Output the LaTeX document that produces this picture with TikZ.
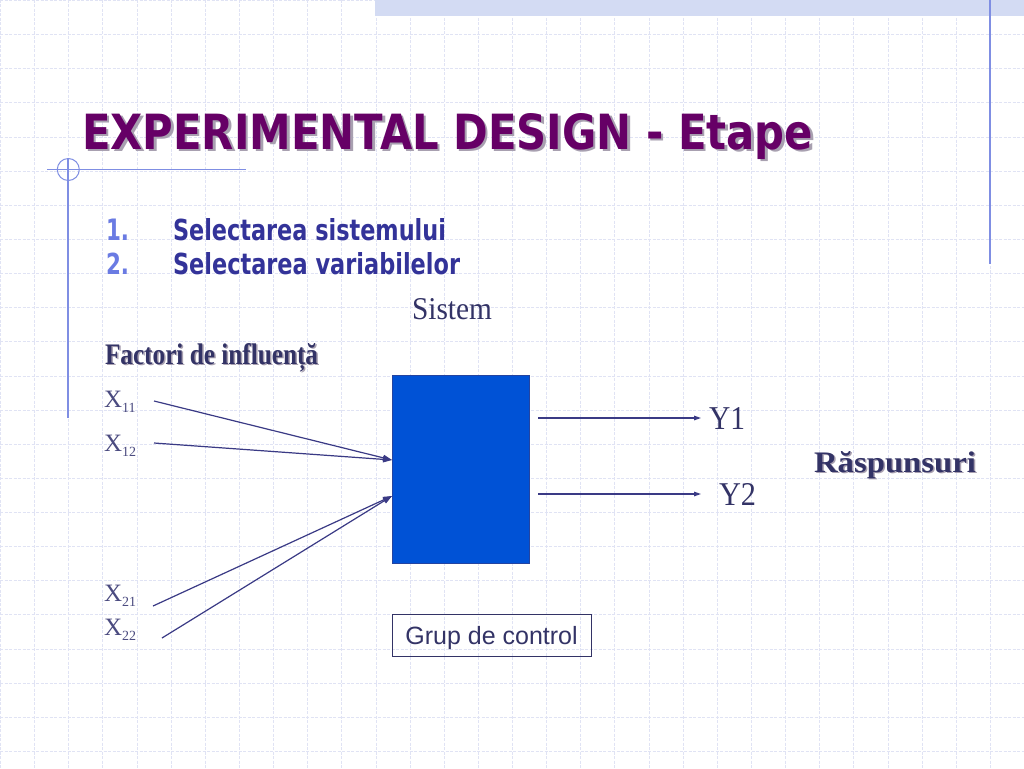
\documentclass[tikz,border=0pt]{standalone}
\usepackage{fontspec}
\setmainfont{Liberation Serif}
\newfontfamily\verd{DejaVu Sans}
\newfontfamily\arialf{Liberation Sans}
\usetikzlibrary{arrows.meta}
\definecolor{titlec}{HTML}{660066}
\definecolor{shadc}{HTML}{A8A0B0}
\definecolor{numc}{HTML}{6A7BE3}
\definecolor{itemc}{HTML}{333399}
\definecolor{txtc}{HTML}{333366}
\definecolor{xc}{HTML}{4B4B80}
\definecolor{arrc}{HTML}{3A3A85}
\definecolor{boxfill}{HTML}{0052D6}
\definecolor{boxdraw}{HTML}{2444A0}
\definecolor{gridc}{HTML}{E0E3F4}
\definecolor{bandc}{HTML}{D3DBF3}
\definecolor{decoc}{HTML}{7F8EE3}
\tikzset{
  gridline/.style={draw=gridc, line width=0.9pt, dash pattern=on 3pt off 1.5pt},
  deco/.style={draw=decoc, line width=1.4pt},
  lbl/.style={inner sep=0pt, outer sep=0pt, anchor=base west},
  flow/.style={draw=arrc, line width=1.2pt, -{Triangle[length=9pt,width=6pt]}},
}
\begin{document}
\begin{tikzpicture}[x=1pt,y=-1pt]
\useasboundingbox (0,0) rectangle (1024,768);
\fill[white] (0,0) rectangle (1024,768);
% grid
\foreach \i in {0,...,30} \draw[gridline] ({0.5+\i*34.133},0) -- ({0.5+\i*34.133},768);
\foreach \j in {0,...,22} \draw[gridline] (0,{0.5+\j*34.133}) -- (1024,{0.5+\j*34.133});
% top band
\fill[bandc] (375,0) rectangle (1024,16);
% decorative lines
\draw[deco] (990,0) -- (990,264);
\draw[deco] (47,169.5) -- (246,169.5);
\draw[deco] (67.8,158) -- (67.8,418);
\draw[deco, line width=1pt] (68.3,169.5) circle[radius=11];
% title
\node[lbl, text=shadc] at (84.5,151.5) {\resizebox{731pt}{36pt}{\verd\bfseries EXPERIMENTAL DESIGN - Etape}};
\node[lbl, text=titlec] (title) at (82,149) {\resizebox{731pt}{36pt}{\verd\bfseries EXPERIMENTAL DESIGN - Etape}};
% list
\node[lbl, text=numc] (n1) at (106,240.5) {\resizebox{23pt}{21.5pt}{\verd\bfseries 1.}};
\node[lbl, text=itemc] (i1) at (173,240.5) {\resizebox{273pt}{22pt}{\verd\bfseries Selectarea sistemului}};
\node[lbl, text=numc] (n2) at (106,274.3) {\resizebox{23pt}{21.5pt}{\verd\bfseries 2.}};
\node[lbl, text=itemc] (i2) at (173,274.3) {\resizebox{287pt}{22pt}{\verd\bfseries Selectarea variabilelor}};
% labels
\node[lbl, text=txtc] (sist) at (412,319.5) {\resizebox{80pt}{21pt}{Sistem}};
\node[lbl, text=shadc] at (106.5,365.5) {\resizebox{213pt}{21pt}{\bfseries Factori de influență}};
\node[lbl, text=txtc] (fact) at (105,364) {\resizebox{213pt}{21pt}{\bfseries Factori de influență}};
\node[lbl, text=shadc] at (815.5,473.5) {\resizebox{162pt}{21pt}{\bfseries Răspunsuri}};
\node[lbl, text=txtc] (resp) at (814,472) {\resizebox{162pt}{21pt}{\bfseries Răspunsuri}};
% X labels
\node[lbl, text=xc] (x11) at (104,407.5) {\fontsize{25}{25}\selectfont X\raisebox{-5pt}{\fontsize{14}{14}\selectfont 11}};
\node[lbl, text=xc] (x12) at (104,451) {\fontsize{25}{25}\selectfont X\raisebox{-5pt}{\fontsize{14}{14}\selectfont 12}};
\node[lbl, text=xc] (x21) at (104,601.5) {\fontsize{25}{25}\selectfont X\raisebox{-5pt}{\fontsize{14}{14}\selectfont 21}};
\node[lbl, text=xc] (x22) at (104,635) {\fontsize{25}{25}\selectfont X\raisebox{-5pt}{\fontsize{14}{14}\selectfont 22}};
% Y labels
\node[lbl, text=txtc] (y1) at (709,429) {\resizebox{36pt}{22pt}{Y1}};
\node[lbl, text=txtc] (y2) at (719,505) {\resizebox{37pt}{22pt}{Y2}};
% system box
\node[draw=boxdraw, fill=boxfill, line width=0.8pt, minimum width=137pt, minimum height=188pt, inner sep=0pt] (sys) at (460.5,469) {};
% control group
\node[draw=txtc, line width=0.8pt, minimum width=199pt, minimum height=42pt, inner sep=0pt, text height=18pt, text depth=0pt, text=txtc] (grp) at (491.5,635) {\arialf\fontsize{25}{25}\selectfont Grup de control};
% connector points
\coordinate (s11) at (154,401);
\coordinate (s12) at (154,443);
\coordinate (s21) at (153,606);
\coordinate (s22) at (162,638);
\coordinate (e1) at (392,460);
\coordinate (e2) at (392,496);
\coordinate (o1) at (538,418);
\coordinate (o2) at (538,494);
\coordinate (t1) at (701,418);
\coordinate (t2) at (701,494);
\draw[flow] (s11) -- (e1);
\draw[flow] (s12) -- (e1);
\draw[flow] (s21) -- (e2);
\draw[flow] (s22) -- (e2);
\draw[flow, -{Triangle[length=7pt,width=4.5pt]}] (o1) -- (t1);
\draw[flow, -{Triangle[length=7pt,width=4.5pt]}] (o2) -- (t2);
\end{tikzpicture}
\end{document}
